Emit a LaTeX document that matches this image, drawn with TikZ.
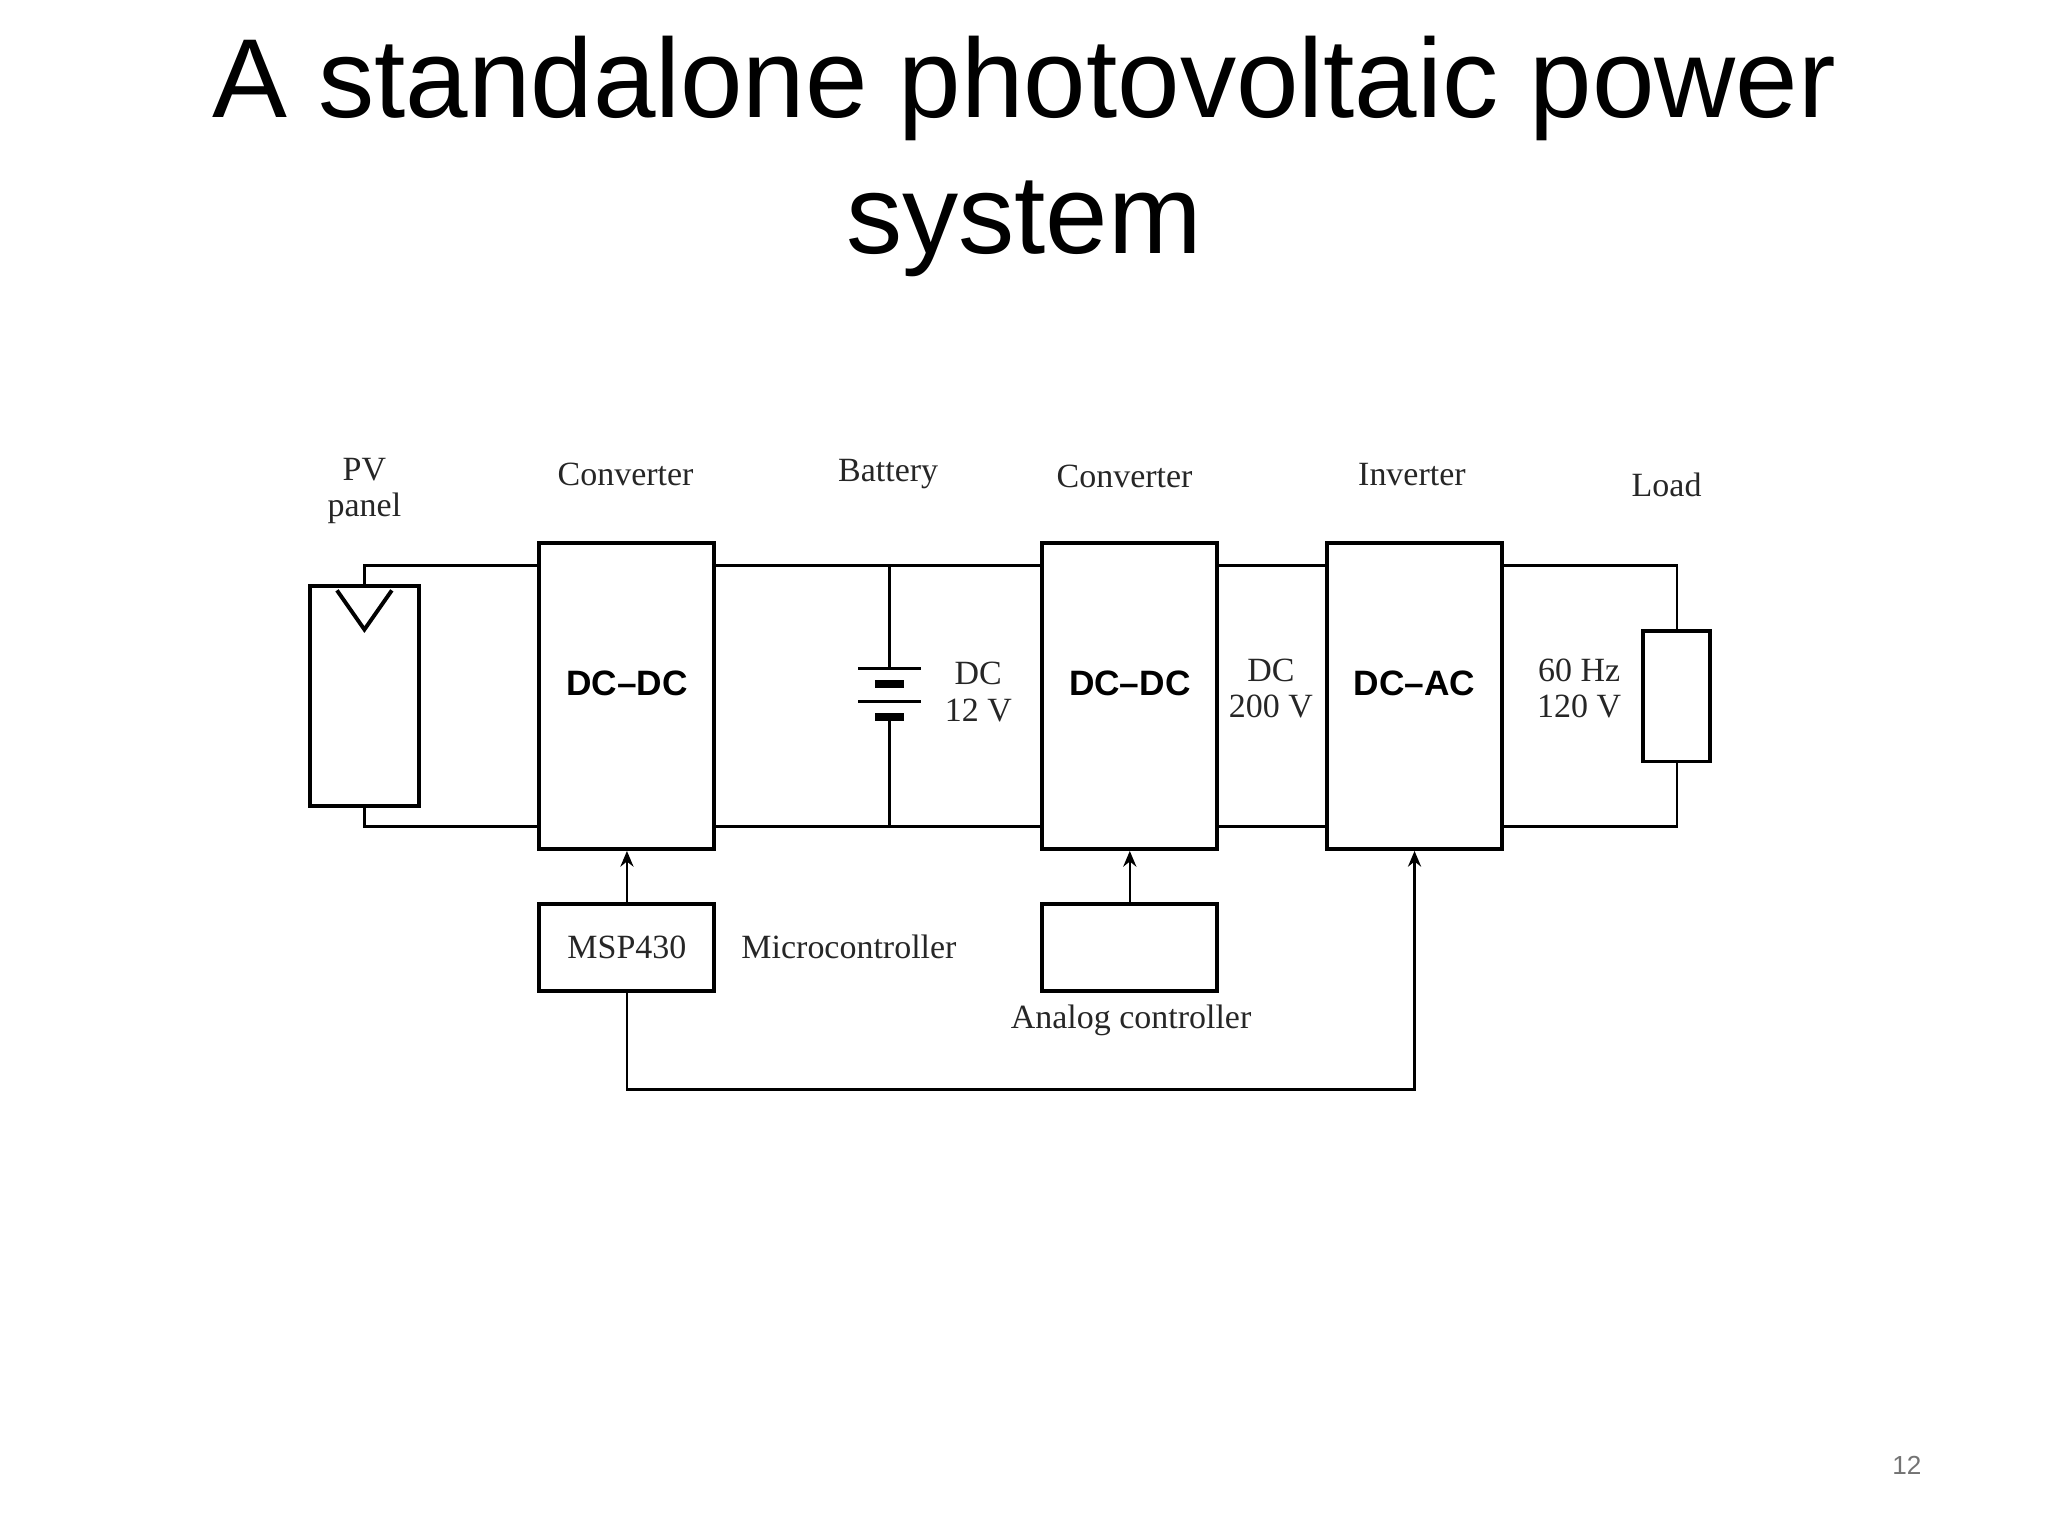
\documentclass[tikz,border=0pt]{standalone}
\usepackage{fontspec}
\setmainfont{Liberation Serif}
\newfontfamily\ttl{Liberation Sans}
\usetikzlibrary{arrows.meta}
\begin{document}
\begin{tikzpicture}[x=0.5pt,y=-0.5pt,
  box/.style={draw,line width=1.5pt,fill=white},
  wire/.style={line width=1pt},
  lbl/.style={font=\fontsize{13}{14}\selectfont,align=center,text=black!85},
  blk/.style={font=\ttl\bfseries\fontsize{13.5}{15}\selectfont},
  arr/.style={line width=1pt,-{Stealth[length=6pt,width=5pt]}}]
\useasboundingbox (0,0) rectangle (1568,1176);
\node[font=\ttl\fontsize{43}{52}\selectfont,align=center] (title) at (784,120) {A standalone photovoltaic power\\system};
% wires
\coordinate (pt) at (279,433); \coordinate (pb) at (279,633);
\coordinate (lt) at (1284,433); \coordinate (lb) at (1284,633);
\draw[wire] (279,449) -- (pt) -- (lt) -- (1284,483);
\draw[wire] (279,617) -- (pb) -- (lb) -- (1284,583);
% PV
\draw[box] (237,449) rectangle (321,617);
\draw[line width=1.5pt] (258,452) -- (279,482) -- (300,452);
% blocks
\node[box,minimum width=67pt,minimum height=117pt] (c1) at (480,533) {};
\node[box,minimum width=67pt,minimum height=117pt] (c2) at (865,533) {};
\node[box,minimum width=67pt,minimum height=117pt] (inv) at (1083,533) {};
\node[blk] (t1) at (480,523) {DC\textendash DC};
\node[blk] (t2) at (865,523) {DC\textendash DC};
\node[blk] (t3) at (1083,523) {DC\textendash AC};
\node[box,minimum width=25.5pt,minimum height=50pt] (load) at (1283.5,533) {};
\node[box,minimum width=67pt,minimum height=33.5pt,lbl] (msp) at (480,725.5) {MSP430};
\node[box,minimum width=67pt,minimum height=33.5pt] (ana) at (865,725.5) {};
% battery
\draw[wire] (681,433) -- (681,512);
\draw[wire] (657,512) -- (705,512);
\draw[line width=3pt] (670,524) -- (692,524);
\draw[wire] (657,537) -- (705,537);
\draw[line width=3pt] (670,549) -- (692,549);
\draw[wire] (681,549) -- (681,633);
% arrows
\draw[arr] (msp.north) -- (c1.south);
\draw[arr] (ana.north) -- (c2.south);
\coordinate (f1) at (480,834); \coordinate (f2) at (1083,834);
\draw[arr] (msp.south) -- (f1) -- (f2) -- (inv.south);
% labels
\node[lbl] (l1) at (279,376) {PV\\panel};
\node[lbl] (l2) at (479,363) {Converter};
\node[lbl] (l3) at (680,363) {Battery};
\node[lbl] (l4) at (861,365) {Converter};
\node[lbl] (l5) at (1081,363) {Inverter};
\node[lbl] (l6) at (1276,371) {Load};
\node[lbl] (v1) at (749,530) {DC\\12 V};
\node[lbl] (v2) at (973,527) {DC\\200 V};
\node[lbl] (v3) at (1209,527) {60 Hz\\120 V};
\node[lbl] (mc) at (650,725) {Microcontroller};
\node[lbl] (ac) at (866,781) {Analog controller};
\node[font=\ttl\fontsize{10}{12}\selectfont,text=black!55] (pg) at (1460,1122) {12};
\end{tikzpicture}
\end{document}
